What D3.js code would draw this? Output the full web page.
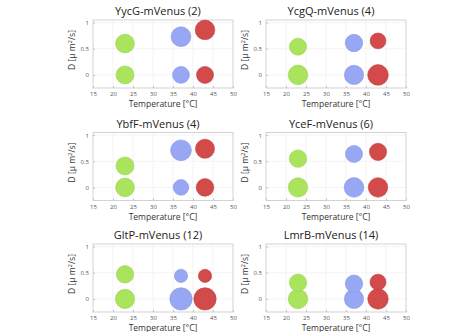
<!DOCTYPE html>
<html>
<head>
<meta charset="utf-8">
<script src="https://cdnjs.cloudflare.com/ajax/libs/d3/7.8.5/d3.min.js"></script>
<style>
  body { margin: 0; background: #fff; }
  svg { display: block; }
  .tick text { font-family: "Open Sans", sans-serif; font-size: 6px; fill: #555; }
</style>
</head>
<body>
<svg id="chart"></svg>
<script>
// strains, one panel each (row by row)
const titles = ["YycG-mVenus (2)", "YcgQ-mVenus (4)", "YbfF-mVenus (4)",
                "YceF-mVenus (6)", "GltP-mVenus (12)", "LmrB-mVenus (14)"];
// growth temperatures (green, blue, red)
const temps = [23, 37, 43];
// mobile population: diffusion constant and fraction, per panel per temperature
const mobileD = [
  [0.60, 0.73, 0.86],
  [0.54, 0.61, 0.65],
  [0.41, 0.71, 0.74],
  [0.55, 0.64, 0.68],
  [0.47, 0.44, 0.44],
  [0.31, 0.29, 0.32]
];
const mobileFrac = [
  [0.52, 0.58, 0.57],
  [0.43, 0.45, 0.37],
  [0.48, 0.64, 0.54],
  [0.45, 0.43, 0.44],
  [0.45, 0.26, 0.26],
  [0.44, 0.45, 0.38]
];
// slow / static population
const staticD = [
  [0, 0, 0], [0, 0, 0], [0, 0, 0], [0, 0, 0], [0, 0, 0], [0, 0, 0]
];
const staticFrac = [
  [0.48, 0.42, 0.43],
  [0.57, 0.55, 0.63],
  [0.52, 0.36, 0.46],
  [0.55, 0.57, 0.56],
  [0.55, 0.74, 0.74],
  [0.56, 0.55, 0.62]
];
const xTicks = [15, 20, 25, 30, 35, 40, 45, 50];
const yTicks = [0, 0.5, 1];

const fills = ["#a9e45c", "#97a7f3", "#d24a4a"];
const strokes = ["#9ad24f", "#8797e6", "#c03f3f"];

const W = 474, H = 332;
const svg = d3.select("#chart").attr("width", W).attr("height", H);

const colX = [93, 266], rowY = [20, 132.5, 244];
const pw = 140, ph = 68;

const x = d3.scaleLinear().domain([15, 50]).range([0, pw]);
const y = d3.scaleLinear().domain([-0.25, 1.05]).range([ph, 0]);
const r = d3.scaleSqrt().domain([0, 1]).range([0, 13]);

titles.forEach(function(t, i){
    const col = i % 2, row = Math.floor(i / 2);
    const g = svg.append("g")
        .attr("transform", "translate(" + colX[col] + "," + rowY[row] + ")");

    // grid
    g.selectAll(".gx").data(xTicks.slice(1, -1)).enter().append("line")
        .attr("x1", d => x(d)).attr("x2", d => x(d))
        .attr("y1", 0).attr("y2", ph)
        .attr("stroke", "#ececec").attr("stroke-width", 0.6);
    g.selectAll(".gy").data(yTicks).enter().append("line")
        .attr("x1", 0).attr("x2", pw)
        .attr("y1", d => y(d)).attr("y2", d => y(d))
        .attr("stroke", "#ececec").attr("stroke-width", 0.6);

    // axes
    const xa = g.append("g").attr("transform", "translate(0," + ph + ")")
        .call(d3.axisBottom(x).tickValues(xTicks).tickSize(-2).tickPadding(4));
    const ya = g.append("g")
        .call(d3.axisLeft(y).tickValues(yTicks).tickSize(-2).tickPadding(4)
              .tickFormat(d3.format("")));
    [xa, ya].forEach(function(a){
        a.select(".domain").remove();
        a.selectAll(".tick line").attr("stroke", "#999").attr("stroke-width", 0.6);
    });

    // box
    g.append("rect").attr("width", pw).attr("height", ph)
        .attr("fill", "none").attr("stroke", "#c8c8c8").attr("stroke-width", 0.8);

    // bubbles: static first, mobile on top
    const pts = [];
    temps.forEach(function(T, k){
        pts.push({t: T, d: staticD[i][k], f: staticFrac[i][k], c: k});
    });
    temps.forEach(function(T, k){
        pts.push({t: T, d: mobileD[i][k], f: mobileFrac[i][k], c: k});
    });
    g.selectAll("circle").data(pts).enter().append("circle")
        .attr("cx", d => x(d.t))
        .attr("cy", d => y(d.d))
        .attr("r", d => r(d.f))
        .attr("fill", d => fills[d.c])
        .attr("stroke", d => strokes[d.c])
        .attr("stroke-width", 0.6);

    // labels
    g.append("text").attr("x", pw / 2 - 5).attr("y", -5)
        .attr("text-anchor", "middle")
        .attr("font-family", "'Open Sans', sans-serif").attr("font-size", 11)
        .attr("fill", "#222").text(t);
    g.append("text").attr("x", pw / 2).attr("y", ph + 19)
        .attr("text-anchor", "middle")
        .attr("font-family", "'Open Sans', sans-serif").attr("font-size", 8.5)
        .attr("fill", "#333").text("Temperature [°C]");
    const yl = g.append("text")
        .attr("transform", "translate(-18," + (ph / 2 - 4) + ") rotate(-90)")
        .attr("text-anchor", "middle")
        .attr("font-family", "'Open Sans', sans-serif").attr("font-size", 8.5)
        .attr("fill", "#333");
    yl.append("tspan").text("D [\u03bc m");
    yl.append("tspan").attr("dy", -3).attr("font-size", 6).text("2");
    yl.append("tspan").attr("dy", 3).text("/s]");
});
</script>
</body>
</html>
